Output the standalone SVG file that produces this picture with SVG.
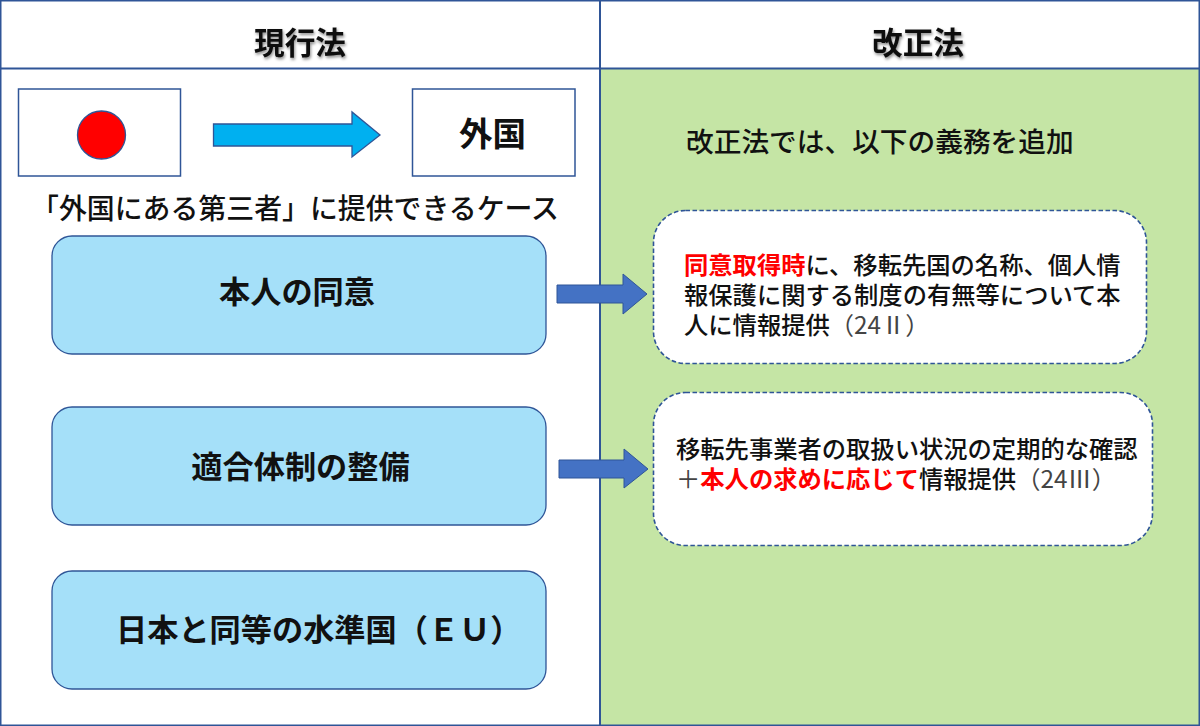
<svg xmlns="http://www.w3.org/2000/svg" width="1200" height="726" viewBox="0 0 1200 726">
<style>
text{font-family:"Noto Sans CJK JP","Liberation Sans",sans-serif;fill:#111}
.frame{fill:none;stroke:#2f5597;stroke-width:2}
.box{fill:#fff;stroke:#2f5597;stroke-width:1.5}
.blue{fill:#a5e0f9;stroke:#2f5597;stroke-width:1.3}
.dash{fill:#fff;stroke:#2f5597;stroke-width:1.6;stroke-dasharray:4.500 2.500}
.b{font-weight:700}
.m{font-weight:500}
.big{font-size:31.200px;font-weight:700}
.sm{font-size:24.300px;font-weight:500}
.r{fill:#f00;font-weight:700}
.g{fill:#444;font-weight:400}
.arr{fill:#4472c4;stroke:#2f5597;stroke-width:1}
</style>
<defs><filter id="sh" x="-20%" y="-20%" width="140%" height="150%"><feDropShadow dx="1" dy="2" stdDeviation="1.5" flood-color="#000" flood-opacity=".45"/></filter></defs>
<rect width="1200" height="726" fill="#fff"/>
<g id="panel-right"><rect x="600" y="68" width="599" height="657" fill="#c5e5a5"/></g>
<g id="frame">
<rect class="frame" x="0.500" y="0.500" width="1199" height="725"/>
<path class="frame" d="M600 0V726M0 68.500H1200"/>
</g>
<g id="header-current"><text x="300" y="54" text-anchor="middle" class="b" font-size="30.700" filter="url(#sh)">現行法</text></g>
<g id="header-revised"><text x="918" y="54" text-anchor="middle" class="b" font-size="30.700" filter="url(#sh)">改正法</text></g>
<g id="japan"><rect class="box" x="18.500" y="89" width="162" height="87"/><ellipse cx="101.500" cy="135" rx="24" ry="24" fill="#f00" stroke="#2f5597" stroke-width="1.300"/></g>
<g id="foreign"><rect class="box" x="412.500" y="89" width="162.500" height="87"/><text x="492.500" y="146" text-anchor="middle" class="b" font-size="33.500">外国</text></g>
<g id="caption"><text x="31" y="219" class="m" font-size="27.900">「外国にある第三者」に提供できるケース</text></g>
<g id="node-consent"><rect class="blue" x="52" y="236" width="494" height="118" rx="20"/><text x="297" y="303" text-anchor="middle" class="big">本人の同意</text></g>
<g id="node-system"><rect class="blue" x="52" y="407" width="494" height="118" rx="20"/><text x="300.500" y="478" text-anchor="middle" class="big">適合体制の整備</text></g>
<g id="node-equivalent"><rect class="blue" x="52" y="571" width="494" height="118" rx="20"/><text x="116" y="641" class="big">日本と同等の水準国（ＥＵ）</text></g>
<g id="note"><text x="686" y="152" class="m" font-size="27.700">改正法では、以下の義務を追加</text></g>
<g id="node-info1"><rect class="dash" x="653.500" y="210.500" width="493" height="153" rx="32"/>
<text class="sm" y="274"><tspan x="684"><tspan class="r">同意取得時</tspan>に、移転先国の名称、個人情</tspan><tspan x="684" dy="30">報保護に関する制度の有無等について本</tspan><tspan x="684" dy="30">人に情報提供<tspan class="g">（24Ⅱ）</tspan></tspan></text></g>
<g id="node-info2"><rect class="dash" x="653.500" y="392.500" width="499" height="153" rx="32"/>
<text class="sm" y="458"><tspan x="676">移転先事業者の取扱い状況の定期的な確認</tspan><tspan x="676" dy="30"><tspan class="g">＋</tspan><tspan class="r">本人の求めに応じて</tspan>情報提供<tspan class="g">（24Ⅲ）</tspan></tspan></text></g>
<g id="connectors">
<path d="M213.500 124H352V112L380 135L352 157V146H213.500Z" fill="#00b0f0" stroke="#2f5597" stroke-width="1.300"/>
<path class="arr" d="M557 285H623V274L647 294L623 314V303H557Z"/>
<path class="arr" d="M559 460H624V449L648 469L624 488V478H559Z"/>
</g>
</svg>
